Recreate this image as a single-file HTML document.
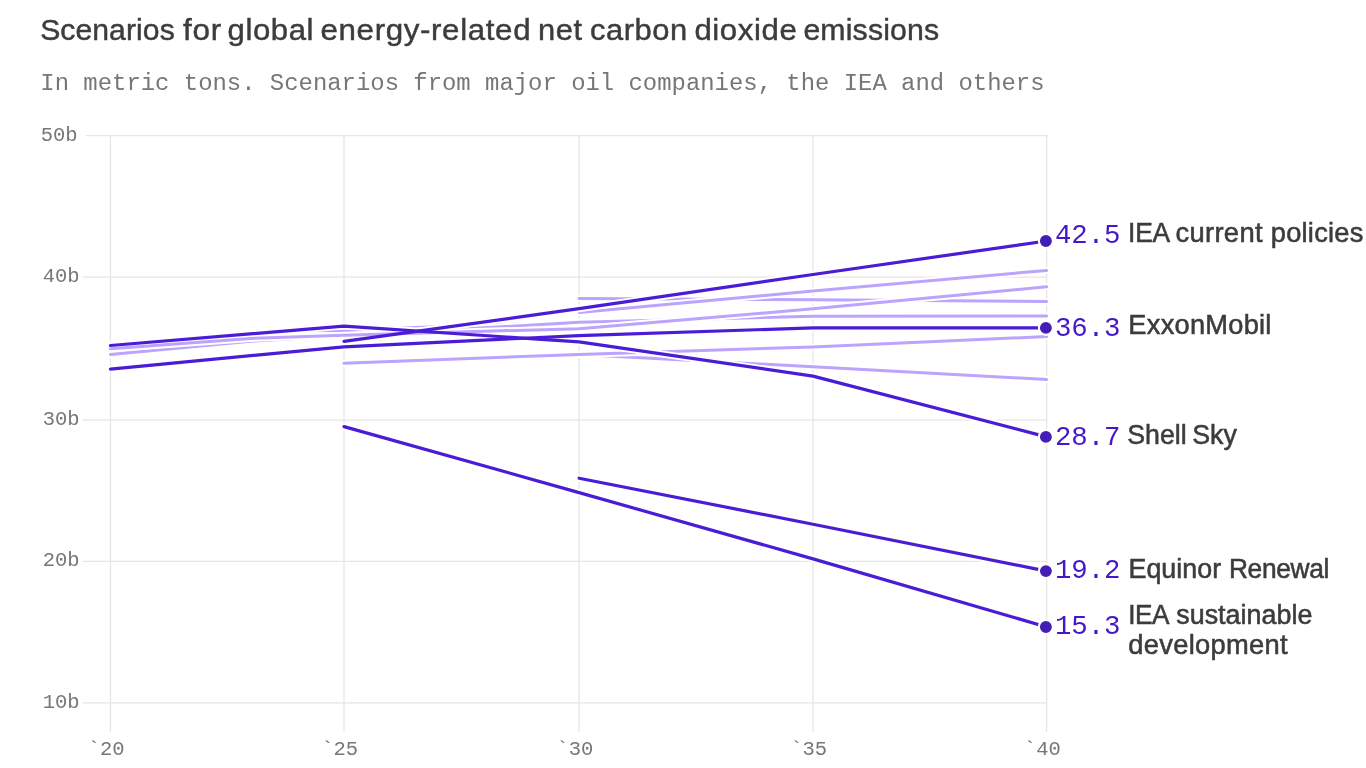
<!DOCTYPE html>
<html><head><meta charset="utf-8"><style>
html,body{margin:0;padding:0;background:#fff;}
body{width:1366px;height:768px;position:relative;overflow:hidden;}
svg{position:absolute;left:0;top:0;will-change:transform;}
.g{stroke:#e6e6e6;stroke-width:1.3;}
.ax{font-family:"Liberation Mono",monospace;font-size:20.5px;fill:#777;}
.val{font-family:"Liberation Mono",monospace;font-size:27.35px;fill:#4418c8;}
.nm{font-family:"Liberation Sans",sans-serif;font-size:26.8px;fill:#3c3c3c;stroke:#3c3c3c;stroke-width:0.55px;}
.t{font-family:"Liberation Sans",sans-serif;font-size:30px;fill:#3c3c3c;stroke:#3c3c3c;stroke-width:0.45px;}
.st{font-family:"Liberation Mono",monospace;font-size:23.92px;fill:#777;}
path{fill:none;stroke-linecap:round;stroke-linejoin:round;}
.h{stroke:#fff;stroke-width:7px;}
.h2{stroke:#fff;stroke-width:7px;}
.l{stroke:#bba3fe;stroke-width:3px;}
.d{stroke:#4a1cd6;stroke-width:3.2px;}
</style></head><body>
<svg width="1366" height="768" viewBox="0 0 1366 768">
<text transform="translate(40.19 39.70) scale(1.0045 1)" class="t" style="letter-spacing:0.073px">Scenarios</text><text transform="translate(182.88 39.70) scale(1.0482 1)" class="t" style="letter-spacing:0.794px">for</text><text transform="translate(227.54 39.70) scale(1.0379 1)" class="t" style="letter-spacing:0.562px">global</text><text transform="translate(320.54 39.70) scale(1.0434 1)" class="t" style="letter-spacing:0.609px">energy-related</text><text transform="translate(537.91 39.70) scale(1.0305 1)" class="t" style="letter-spacing:0.586px">net</text><text transform="translate(590.00 39.70) scale(1.0305 1)" class="t" style="letter-spacing:0.524px">carbon</text><text transform="translate(694.38 39.70) scale(1.0394 1)" class="t" style="letter-spacing:0.582px">dioxide</text><text transform="translate(803.39 39.70) scale(1.0093 1)" class="t" style="letter-spacing:0.151px">emissions</text>
<text x="40.34" y="89.9" class="st">In metric tons. Scenarios from major oil companies, the IEA and others</text>
<line x1="85.90" y1="135.70" x2="1047.2" y2="135.70" class="g"/>
<line x1="82.80" y1="277.20" x2="1047.2" y2="277.20" class="g"/>
<line x1="82.80" y1="420.20" x2="1047.2" y2="420.20" class="g"/>
<line x1="82.80" y1="561.35" x2="1047.2" y2="561.35" class="g"/>
<line x1="82.80" y1="702.80" x2="1047.2" y2="702.80" class="g"/>
<line x1="110.45" y1="135.05" x2="110.45" y2="732.0" class="g"/>
<line x1="344.00" y1="135.05" x2="344.00" y2="732.0" class="g"/>
<line x1="579.10" y1="135.05" x2="579.10" y2="732.0" class="g"/>
<line x1="813.00" y1="135.05" x2="813.00" y2="732.0" class="g"/>
<line x1="1046.60" y1="135.05" x2="1046.60" y2="732.0" class="g"/>
<text x="40.74" y="140.50" class="ax">50b</text><text x="42.75" y="281.60" class="ax">40b</text><text x="42.75" y="424.60" class="ax">30b</text><text x="42.75" y="565.70" class="ax">20b</text><text x="42.75" y="707.60" class="ax">10b</text>
<text x="87.70" y="754.85" class="ax">`20</text><text x="321.25" y="754.85" class="ax">`25</text><text x="556.35" y="754.85" class="ax">`30</text><text x="790.25" y="754.85" class="ax">`35</text><text x="1023.85" y="754.85" class="ax">`40</text>
<path d="M110.45,345.60 L310.00,330.00 L344.00,331.10 L415.00,327.50 L579.10,322.30" class="h"/><path d="M110.45,345.60 L310.00,330.00 L344.00,331.10 L415.00,327.50 L579.10,322.30" class="l"/>
<path d="M110.45,354.40 L250.60,341.20 L344.00,335.80 L579.10,322.30 L813.00,316.25 L1046.60,316.00" class="h"/><path d="M110.45,354.40 L250.60,341.20 L344.00,335.80 L579.10,322.30 L813.00,316.25 L1046.60,316.00" class="l"/>
<path d="M579.10,298.50 L813.00,299.80 L1046.60,301.40" class="h"/><path d="M579.10,298.50 L813.00,299.80 L1046.60,301.40" class="l"/>
<path d="M579.10,312.60 L813.00,290.90 L1046.60,270.40" class="h"/><path d="M579.10,312.60 L813.00,290.90 L1046.60,270.40" class="l"/>
<path d="M579.10,354.50 L813.00,366.80 L1046.60,379.50" class="h"/><path d="M579.10,354.50 L813.00,366.80 L1046.60,379.50" class="l"/>
<path d="M344.00,363.35 L579.10,354.40 L813.00,347.00 L1046.60,336.60" class="h"/><path d="M344.00,363.35 L579.10,354.40 L813.00,347.00 L1046.60,336.60" class="l"/>
<path d="M344.00,341.30 L579.10,308.70 L813.00,274.50 L1046.60,241.00" class="h"/>
<path d="M110.45,369.10 L344.00,346.80 L579.10,335.60 L813.00,327.90 L1046.60,327.90" class="h"/>
<path d="M110.45,345.50 L344.00,326.10 L579.10,341.90 L813.00,376.10 L1046.60,436.90" class="h"/>
<path d="M579.10,478.20 L813.00,524.20 L1046.60,571.10" class="h"/>
<path d="M344.00,426.60 L579.10,492.60 L813.00,558.90 L1046.60,626.95" class="h"/>
<path d="M110.45,348.80 L250.60,338.40 L344.00,335.20 L579.10,328.70 L813.00,308.80 L1046.60,286.80" class="h2"/><path d="M110.45,348.80 L250.60,338.40 L344.00,335.20 L579.10,328.70 L813.00,308.80 L1046.60,286.80" class="l"/>
<path d="M344.00,341.30 L579.10,308.70 L813.00,274.50 L1046.60,241.00" class="d"/>
<path d="M110.45,369.10 L344.00,346.80 L579.10,335.60 L813.00,327.90 L1046.60,327.90" class="d"/>
<path d="M110.45,345.50 L344.00,326.10 L579.10,341.90 L813.00,376.10 L1046.60,436.90" class="d"/>
<path d="M579.10,478.20 L813.00,524.20 L1046.60,571.10" class="d"/>
<path d="M344.00,426.60 L579.10,492.60 L813.00,558.90 L1046.60,626.95" class="d"/>
<circle cx="1045.9" cy="241.00" r="7.0" fill="#431db5" stroke="#fff" stroke-width="2.1"/><circle cx="1045.9" cy="327.90" r="7.0" fill="#431db5" stroke="#fff" stroke-width="2.1"/><circle cx="1045.9" cy="436.90" r="7.0" fill="#431db5" stroke="#fff" stroke-width="2.1"/><circle cx="1045.9" cy="571.10" r="7.0" fill="#431db5" stroke="#fff" stroke-width="2.1"/><circle cx="1045.9" cy="626.95" r="7.0" fill="#431db5" stroke="#fff" stroke-width="2.1"/>
<text x="1054.90" y="242.50" class="val">42.5</text><text x="1054.90" y="336.20" class="val">36.3</text><text x="1054.90" y="444.50" class="val">28.7</text><text x="1054.90" y="578.40" class="val">19.2</text><text x="1054.90" y="634.30" class="val">15.3</text>
<text transform="translate(1128.11 242.30) scale(0.9854 1)" class="nm" style="letter-spacing:-0.302px">IEA</text><text transform="translate(1175.57 242.30) scale(1.0214 1)" class="nm" style="letter-spacing:0.287px">current</text><text transform="translate(1270.84 242.30) scale(1.0177 1)" class="nm" style="letter-spacing:0.217px">policies</text><text transform="translate(1128.35 333.60) scale(1.0166 1)" class="nm" style="letter-spacing:0.245px">ExxonMobil</text><text transform="translate(1127.25 444.00) scale(0.9979 1)" class="nm" style="letter-spacing:-0.030px">Shell</text><text transform="translate(1192.25 444.00) scale(1.0000 1)" class="nm" style="letter-spacing:0.000px">Sky</text><text transform="translate(1128.47 578.10) scale(1.0020 1)" class="nm" style="letter-spacing:0.030px">Equinor</text><text transform="translate(1228.91 578.10) scale(0.9817 1)" class="nm" style="letter-spacing:-0.314px">Renewal</text><text transform="translate(1128.23 624.00) scale(0.9781 1)" class="nm" style="letter-spacing:-0.458px">IEA</text><text transform="translate(1176.19 624.00) scale(1.0028 1)" class="nm" style="letter-spacing:0.037px">sustainable</text><text transform="translate(1128.31 654.20) scale(1.0193 1)" class="nm" style="letter-spacing:0.289px">development</text>
</svg>
</body></html>
